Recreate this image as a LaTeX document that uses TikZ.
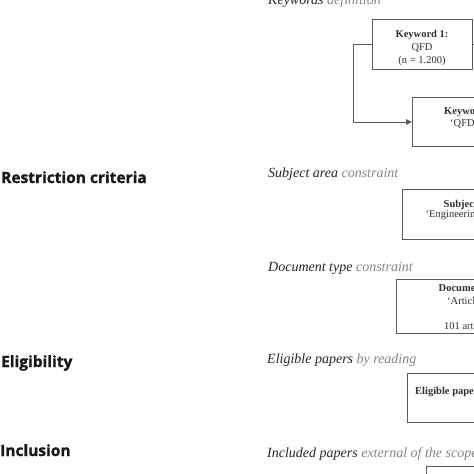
\documentclass[tikz,border=0pt]{standalone}
\usepackage{fontspec}
\setmainfont{Liberation Serif}
\newfontfamily\labfont[BoldFeatures={FakeBold=1.2}]{Open Sans}
\usetikzlibrary{arrows.meta}
\definecolor{boxline}{HTML}{5A5A5A}
\definecolor{boxtext}{HTML}{303030}
\definecolor{darkit}{HTML}{262626}
\definecolor{greyit}{HTML}{858585}
\tikzset{
  framebox/.style={draw=boxline, line width=0.9pt, inner sep=0pt, anchor=north west},
  boxtxt/.style={text=boxtext, font=\fontsize{10.5}{13}\selectfont, inner sep=0pt, anchor=base west},
  steplabel/.style={font=\fontsize{14}{16}\selectfont\itshape, inner sep=0pt, anchor=base west},
  phaselabel/.style={font=\labfont\bfseries\fontsize{15.5}{18}\selectfont, text=black!90, inner sep=0pt, anchor=base west},
  conn/.style={draw=boxline, line width=0.9pt},
  arr/.style={conn, -{Triangle[length=6pt,width=5.5pt]}}
}
\begin{document}
\begin{tikzpicture}[x=1pt,y=-1pt]
\useasboundingbox (0,0) rectangle (474,474);
\clip (0,0) rectangle (474,474);
\fill[white] (0,0) rectangle (474,474);

% phase labels
\node[phaselabel] (pRes) at (1,183) {Restriction criteria};
\node[phaselabel] (pEli) at (1,367) {Eligibility};
\node[phaselabel] (pInc) at (0,456) {Inclusion};

% step labels
\node[steplabel] (sKey) at (268,4.5) {\textcolor{darkit}{Keywords} \textcolor{greyit}{definition}};
\node[steplabel] (sSub) at (268,177) {\textcolor{darkit}{Subject area} \textcolor{greyit}{constraint}};
\node[steplabel] (sDoc) at (268,271.5) {\textcolor{darkit}{Document type} \textcolor{greyit}{constraint}};
\node[steplabel] (sEli) at (267,363) {\textcolor{darkit}{Eligible papers} \textcolor{greyit}{by reading}};
\node[steplabel] (sInc) at (267,457) {\textcolor{darkit}{Included papers} \textcolor{greyit}{external of the scope}};

% Keyword 1
\node[framebox, minimum width=100pt, minimum height=50pt] (k1) at (372,19) {};
\node[text=boxtext, font=\fontsize{10.5}{13}\selectfont, align=center, inner sep=0pt, anchor=base] (k1t) at (422,63)
  {\textbf{Keyword 1:}\\QFD\\(n = 1.200)};

% Keyword 2
\node[framebox, minimum width=130pt, minimum height=49pt] (k2) at (412,97) {};
\node[boxtxt] (k2a) at (444,114) {\textbf{Keyword 2:}};
\node[boxtxt] (k2b) at (450,126) {‘QFD};

% Subject area
\node[framebox, minimum width=130pt, minimum height=50pt] (sa) at (402,189) {};
\node[boxtxt] (saa) at (443.5,207) {\textbf{Subject area}};
\node[boxtxt] (sab) at (425.5,217.5) {‘Engineering’};

% Document type
\node[framebox, minimum width=130pt, minimum height=54pt] (dt) at (396,279) {};
\node[boxtxt] (dta) at (438.5,291) {\textbf{Document type}};
\node[boxtxt] (dtb) at (447,304) {‘Article’};
\node[boxtxt] (dtc) at (444,329.5) {101 articles};

% Eligible papers
\node[framebox, minimum width=130pt, minimum height=49pt] (ep) at (407,373) {};
\node[boxtxt] (epa) at (415,394) {\textbf{Eligible papers}};

% Included papers
\node[framebox, minimum width=130pt, minimum height=50pt] (ip) at (426,466) {};

% connectors
\coordinate (k1out) at (495,44);
\coordinate (bendA) at (353,44);
\coordinate (bendB) at (353,122);
\draw[conn] (k1.west |- 0,44) -- (bendA) -- (bendB);
\draw[arr] (bendB) -- (k2.west |- bendB);
\draw[conn] (k1.east |- 0,44) -- (k1out);
\end{tikzpicture}
\end{document}
